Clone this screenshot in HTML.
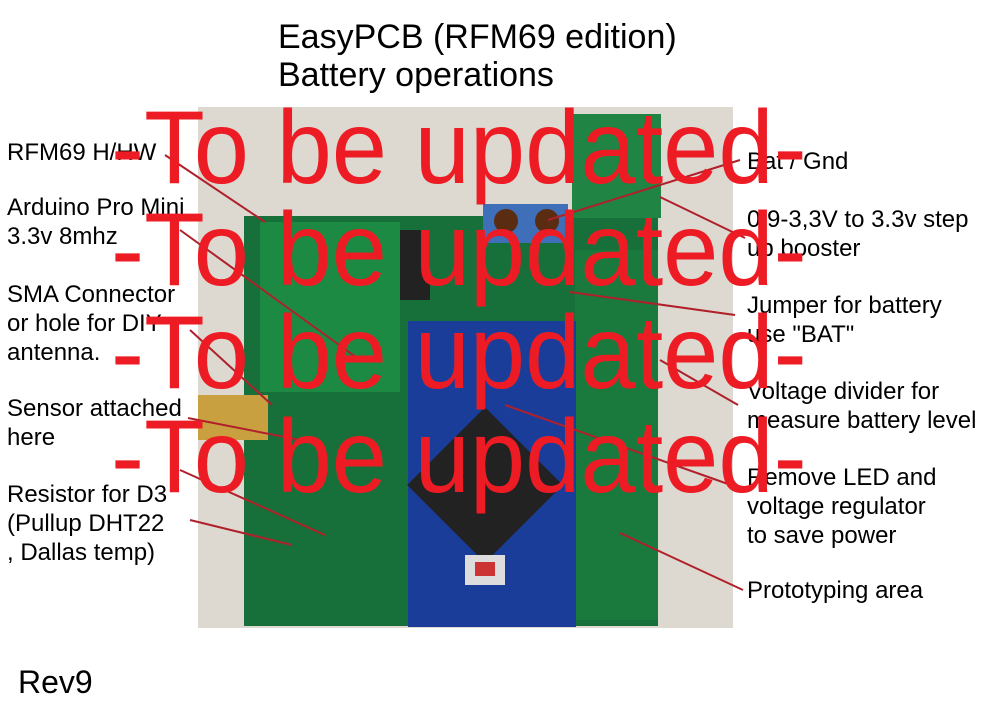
<!DOCTYPE html>
<html><head><meta charset="utf-8"><style>
body{margin:0;width:1004px;height:708px;background:#fff;position:relative;overflow:hidden;font-family:"Liberation Sans",Arial,sans-serif}
.t{position:absolute;color:#000;font-size:24px;line-height:29px;white-space:nowrap}
.r{position:absolute;left:111px;color:#ed1c24;font-size:104px;line-height:104px;white-space:nowrap;transform:scaleX(0.955);transform-origin:0 0}
</style></head><body>
<svg width="1004" height="708" style="position:absolute;left:0;top:0">
<rect x="198" y="107" width="535" height="521" fill="#ddd8d0"/>
<rect x="244" y="216" width="414" height="410" fill="#17703a"/>
<rect x="260" y="222" width="140" height="170" fill="#1d8a44"/>
<rect x="572" y="114" width="89" height="104" fill="#1f8444"/>
<rect x="575" y="250" width="83" height="370" fill="#1a7a3e"/>
<rect x="483" y="204" width="85" height="39" fill="#3f6fb8"/>
<circle cx="506" cy="221" r="12" fill="#5a2d12"/><circle cx="547" cy="221" r="12" fill="#5a2d12"/>
<rect x="408" y="321" width="168" height="306" fill="#1b3d9a"/>
<rect x="430" y="430" width="110" height="110" fill="#222" transform="rotate(45 485 485)"/>
<rect x="465" y="555" width="40" height="30" fill="#ddd"/><rect x="475" y="562" width="20" height="14" fill="#c33"/>
<rect x="400" y="230" width="30" height="70" fill="#222"/>
<rect x="198" y="395" width="70" height="45" fill="#c9a040"/>
<g stroke="#b0202a" stroke-width="2">
<line x1="165" y1="155" x2="265" y2="222"/>
<line x1="180" y1="230" x2="360" y2="360"/>
<line x1="190" y1="330" x2="272" y2="405"/>
<line x1="188" y1="418" x2="300" y2="440"/>
<line x1="180" y1="470" x2="325" y2="535"/>
<line x1="190" y1="520" x2="292" y2="545"/>
<line x1="740" y1="160" x2="548" y2="220"/>
<line x1="745" y1="238" x2="660" y2="197"/>
<line x1="735" y1="315" x2="570" y2="292"/>
<line x1="738" y1="405" x2="660" y2="360"/>
<line x1="745" y1="490" x2="505" y2="405"/>
<line x1="743" y1="590" x2="620" y2="533"/>
</g>
</svg>
<div class="t" style="left:278px;top:18px;font-size:34px;line-height:38px">EasyPCB (RFM69 edition)<br>Battery operations</div>
<div class="t" style="left:7px;top:138px">RFM69 H/HW</div>
<div class="t" style="left:7px;top:193px">Arduino Pro Mini<br>3.3v 8mhz</div>
<div class="t" style="left:7px;top:280px">SMA Connector<br>or hole for DIY<br>antenna.</div>
<div class="t" style="left:7px;top:394px">Sensor attached<br>here</div>
<div class="t" style="left:7px;top:480px">Resistor for D3<br>(Pullup DHT22<br>, Dallas temp)</div>
<div class="t" style="left:747px;top:147px">Bat / Gnd</div>
<div class="t" style="left:747px;top:205px">0.9-3,3V to 3.3v step<br>up booster</div>
<div class="t" style="left:747px;top:291px">Jumper for battery<br>use "BAT"</div>
<div class="t" style="left:747px;top:377px">Voltage divider for<br>measure battery level</div>
<div class="t" style="left:747px;top:463px">Remove LED and<br>voltage regulator<br>to save power</div>
<div class="t" style="left:747px;top:576px">Prototyping area</div>
<div class="t" style="left:18px;top:664px;font-size:32px;line-height:36px">Rev9</div>
<div class="r" style="top:96px">-To be updated-</div>
<div class="r" style="top:198px">-To be updated-</div>
<div class="r" style="top:301px">-To be updated-</div>
<div class="r" style="top:405px">-To be updated-</div>
</body></html>
